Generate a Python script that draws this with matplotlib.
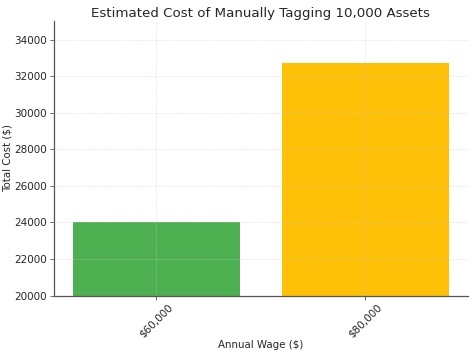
import matplotlib.pyplot as plt

# data
wages = ['$60,000', '$80,000']
costs = [24000, 32700]
colors = ['#4CAF50', '#FFC107']

plt.rcParams['text.color'] = '#262626'
plt.rcParams['axes.labelcolor'] = '#262626'
plt.rcParams['xtick.color'] = '#262626'
plt.rcParams['ytick.color'] = '#262626'

fig = plt.figure(figsize=(4.74, 3.54), dpi=100)
ax = fig.add_axes([0.114, 0.165, 0.873, 0.775])

ax.bar(wages, costs, color=colors, width=0.8)

ax.set_ylim(20000, 35000)
ax.set_title('Estimated Cost of Manually Tagging 10,000 Assets', fontsize=9.6, pad=3)
ax.set_xlabel('Annual Wage ($)', fontsize=7.4, labelpad=0)
ax.set_ylabel('Total Cost ($)', fontsize=7.4, labelpad=1)
ax.tick_params(axis='both', labelsize=7.5, width=0.6, length=3, pad=2, color='#555555')
plt.setp(ax.get_xticklabels(), rotation=45)

ax.grid(True, linestyle='--', linewidth=0.5, color='#cccccc', alpha=0.5)
ax.set_axisbelow(False)

for s in ['top', 'right']:
    ax.spines[s].set_visible(False)
for s in ['left', 'bottom']:
    ax.spines[s].set_color('#555555')
    ax.spines[s].set_linewidth(0.9)

plt.savefig('out.png', dpi=100)
